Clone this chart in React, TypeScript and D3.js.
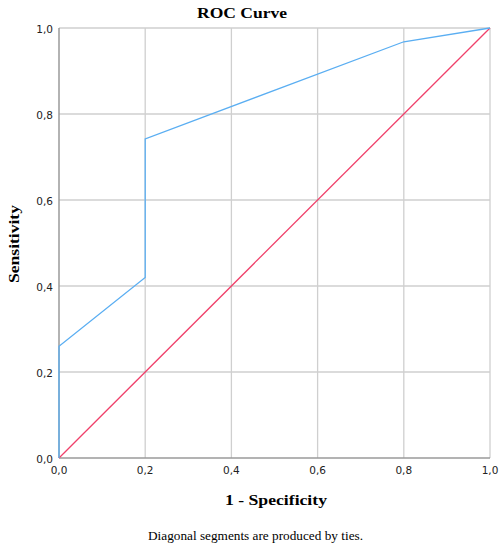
import { useEffect, useRef } from "react"
import * as d3 from "d3"

// ROC curve points (1 - specificity, sensitivity)
const fpr = [0, 0, 0.2, 0.2, 0.8, 1]
const tpr = [0, 0.26, 0.42, 0.742, 0.968, 1]
const refLine = [0, 1]
const ticks = [0, 0.2, 0.4, 0.6, 0.8, 1]

export default function App() {
  const svgRef = useRef<SVGSVGElement>(null)

  useEffect(() => {
    if (!svgRef.current) return
    const svg = d3.select(svgRef.current)
    svg.selectAll("*").remove()

    const left = 59
    const top = 28
    const right = 490
    const bottom = 458

    const x = d3.scaleLinear().domain([0, 1]).range([left, right])
    const y = d3.scaleLinear().domain([0, 1]).range([bottom, top])
    const fmt = (d: number) => d3.format(".1f")(d).replace(".", ",")

    svg.append("rect").attr("width", 504).attr("height", 550).attr("fill", "#fff")

    // Gridlines
    svg
      .selectAll(".gx")
      .data(ticks.slice(1))
      .enter()
      .append("line")
      .attr("x1", (d) => x(d))
      .attr("x2", (d) => x(d))
      .attr("y1", top)
      .attr("y2", bottom)
      .attr("stroke", "#cfcfcf")
      .attr("stroke-width", 1.3)

    svg
      .selectAll(".gy")
      .data(ticks.slice(1))
      .enter()
      .append("line")
      .attr("x1", left)
      .attr("x2", right)
      .attr("y1", (d) => y(d))
      .attr("y2", (d) => y(d))
      .attr("stroke", "#cfcfcf")
      .attr("stroke-width", 1.3)

    // Axis lines
    svg.append("line").attr("x1", left).attr("x2", left).attr("y1", top).attr("y2", bottom).attr("stroke", "#9a9a9a").attr("stroke-width", 1.5)
    svg.append("line").attr("x1", left).attr("x2", right).attr("y1", bottom).attr("y2", bottom).attr("stroke", "#9a9a9a").attr("stroke-width", 1.5)

    // Tick labels
    svg
      .selectAll(".ty")
      .data(ticks)
      .enter()
      .append("text")
      .attr("x", left - 6)
      .attr("y", (d) => y(d) + 5)
      .attr("text-anchor", "end")
      .style("font-family", "'DejaVu Sans', sans-serif")
      .style("font-size", "10.5px")
      .style("fill", "#222")
      .text(fmt)

    svg
      .selectAll(".tx")
      .data(ticks)
      .enter()
      .append("text")
      .attr("x", (d) => x(d))
      .attr("y", bottom + 16)
      .attr("text-anchor", "middle")
      .style("font-family", "'DejaVu Sans', sans-serif")
      .style("font-size", "10.5px")
      .style("fill", "#222")
      .text(fmt)

    // Reference diagonal
    const line = d3
      .line<[number, number]>()
      .x((d) => x(d[0]))
      .y((d) => y(d[1]))

    svg
      .append("path")
      .datum(refLine.map((v) => [v, v] as [number, number]))
      .attr("fill", "none")
      .attr("stroke", "#f0416b")
      .attr("stroke-width", 1.3)
      .attr("d", line)

    // ROC curve
    svg
      .append("path")
      .datum(fpr.map((v, i) => [v, tpr[i]] as [number, number]))
      .attr("fill", "none")
      .attr("stroke", "#5aaef2")
      .attr("stroke-width", 1.3)
      .attr("d", line)

    // Titles
    svg
      .append("text")
      .attr("x", 197)
      .attr("y", 18)
      .attr("textLength", 90)
      .attr("lengthAdjust", "spacingAndGlyphs")
      .style("font-family", "'Liberation Serif', serif")
      .style("font-weight", "bold")
      .style("font-size", "15px")
      .text("ROC Curve")

    svg
      .append("text")
      .attr("x", 225)
      .attr("y", 505)
      .attr("textLength", 102)
      .attr("lengthAdjust", "spacingAndGlyphs")
      .style("font-family", "'Liberation Serif', serif")
      .style("font-weight", "bold")
      .style("font-size", "15.5px")
      .text("1 - Specificity")

    svg
      .append("text")
      .attr("transform", `translate(19, 283) rotate(-90)`)
      .attr("textLength", 78)
      .attr("lengthAdjust", "spacingAndGlyphs")
      .style("font-family", "'Liberation Serif', serif")
      .style("font-weight", "bold")
      .style("font-size", "15.5px")
      .text("Sensitivity")

    svg
      .append("text")
      .attr("x", 148)
      .attr("y", 540)
      .attr("textLength", 215)
      .attr("lengthAdjust", "spacingAndGlyphs")
      .style("font-family", "'Liberation Serif', serif")
      .style("font-size", "13px")
      .text("Diagonal segments are produced by ties.")
  }, [])

  return <svg ref={svgRef} width={504} height={550} style={{ position: "absolute", left: 0, top: 0 }}></svg>
}
